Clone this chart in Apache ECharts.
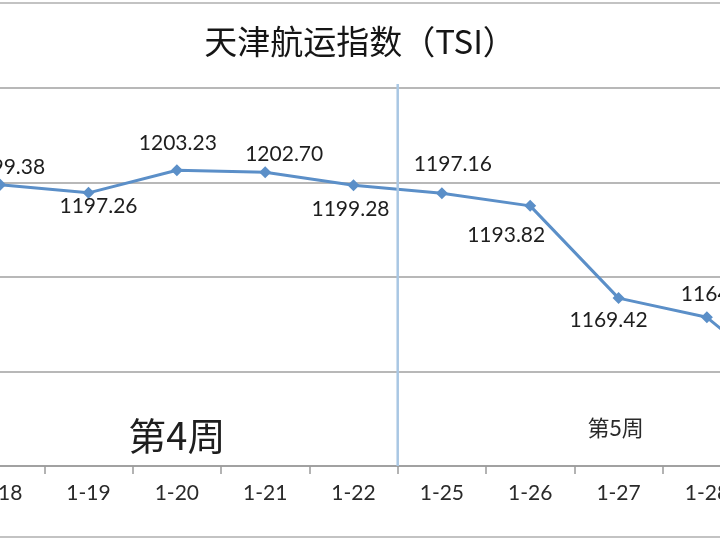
<!DOCTYPE html>
<html><head><meta charset="utf-8">
<script src="https://cdn.jsdelivr.net/npm/echarts@6/dist/echarts.min.js"></script>
<style>html,body{margin:0;padding:0;background:#fff}#c{width:720px;height:539px}</style>
</head><body><div id="c"></div>
<script>
// ---- data ----
const categories = ['1-18','1-19','1-20','1-21','1-22','1-25','1-26','1-27','1-28','1-29'];
const tsiValues = [1199.38, 1197.26, 1203.23, 1202.70, 1199.28, 1197.16, 1193.82, 1169.42, 1164.33, 1145.00];
const yTicks = [1125, 1150, 1175, 1200, 1225];
const titleText = '天津航运指数（TSI）';
const weekLabels = ['第4周', '第5周'];

// ---- styles ----
const labelOffsets = [[6,-18],[10,13],[1,-27],[19,-18],[-3,24],[11,-29],[-24,29],[-10,22],[13,-23],[0,0]];
const LINE_COLOR = '#5b8fc8';

const chart = echarts.init(document.getElementById('c'), null, {renderer: 'canvas'});
const seriesData = tsiValues.map((v, i) => ({
  value: v,
  label: { offset: labelOffsets[i] }
}));

chart.setOption({
  backgroundColor: '#fff',
  animation: false,
  title: {
    text: titleText, left: 'center', top: 20,
    textStyle: { fontFamily: 'Noto Sans CJK SC', fontSize: 33, fontWeight: 'normal', color: '#151515' }
  },
  grid: { left: -44, width: 883.4, top: 88, bottom: 73, containLabel: false, outerBoundsMode: 'none' },
  xAxis: {
    type: 'category', data: categories, boundaryGap: true,
    axisLine: { lineStyle: { color: '#9a9a9a', width: 1.5 } },
    axisTick: { show: true, length: 8, lineStyle: { color: '#9a9a9a', width: 1.5 } },
    axisLabel: { interval: 0, margin: 17, fontSize: 21, color: '#2a2a2a', fontFamily: 'Lato', hideOverlap: false }
  },
  yAxis: {
    type: 'value', min: yTicks[0], max: yTicks[yTicks.length - 1], interval: yTicks[1] - yTicks[0],
    axisLine: { show: false }, axisTick: { show: false }, axisLabel: { show: false },
    splitLine: { lineStyle: { color: '#a0a0a0', width: 1.5 } }
  },
  series: [{
    type: 'line', data: seriesData,
    symbol: 'diamond', symbolSize: 12,
    lineStyle: { color: LINE_COLOR, width: 3 },
    itemStyle: { color: LINE_COLOR },
    label: {
      show: true, position: 'inside', color: '#1e1e1e', fontSize: 21, fontFamily: 'Lato',
      formatter: p => Number(p.value).toFixed(2)
    }
  }]
});

// separator between the two weeks, computed from axis positions
const x1 = chart.convertToPixel({xAxisIndex: 0}, categories[4]);
const x2 = chart.convertToPixel({xAxisIndex: 0}, categories[5]);
const sepX = (x1 + x2) / 2;
const yTop = chart.convertToPixel({yAxisIndex: 0}, yTicks[yTicks.length - 1]);
const yBot = chart.convertToPixel({yAxisIndex: 0}, yTicks[0]);
const w4x = (chart.convertToPixel({xAxisIndex: 0}, categories[1]) + chart.convertToPixel({xAxisIndex: 0}, categories[3])) / 2;
const w5x = chart.convertToPixel({xAxisIndex: 0}, categories[7]);

chart.setOption({
  graphic: [
    { type: 'rect', silent: true, z: -1, shape: { x: -10, y: 3, width: 740, height: 534 },
      style: { fill: 'none', stroke: '#b0b0b0', lineWidth: 1.5 } },
    { type: 'line', silent: true, z: 10, shape: { x1: sepX, y1: yTop - 4, x2: sepX, y2: yBot },
      style: { stroke: '#a9c7e3', lineWidth: 2.5 } },
    { type: 'text', silent: true, x: w4x, y: yBot - 30,
      style: { text: weekLabels[0], fontSize: 38, fontFamily: 'Noto Sans CJK SC', fill: '#1e1e1e', align: 'center', verticalAlign: 'middle' } },
    { type: 'text', silent: true, x: w5x - 3, y: yBot - 38,
      style: { text: weekLabels[1], fontSize: 22, fontFamily: 'Noto Sans CJK SC', fill: '#2a2a2a', align: 'center', verticalAlign: 'middle' } }
  ]
});
</script></body></html>
